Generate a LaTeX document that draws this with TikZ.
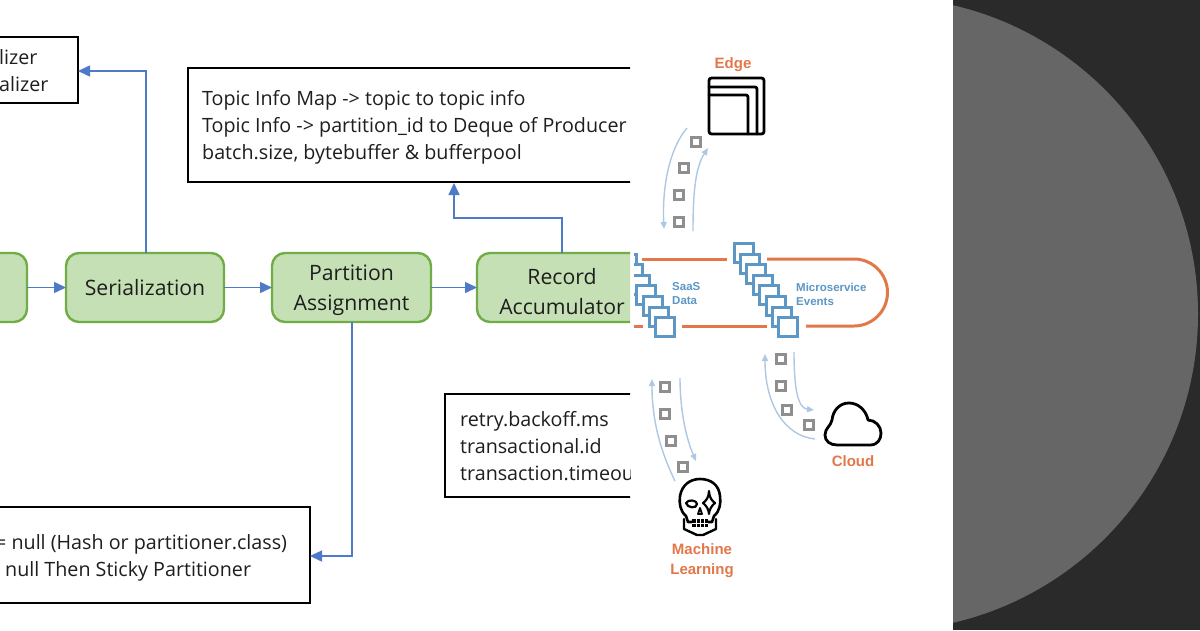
\documentclass[tikz,border=0pt]{standalone}
\usepackage{fontspec}
\setmainfont{Open Sans}
\newfontfamily\labfont{Liberation Sans}
\usetikzlibrary{arrows.meta}
\definecolor{darkbg}{HTML}{2A2A2A}
\definecolor{disc}{HTML}{666666}
\definecolor{gfill}{HTML}{C5E0B4}
\definecolor{gline}{HTML}{70AD47}
\definecolor{arrowblue}{HTML}{4F7AC8}
\definecolor{orangeC}{HTML}{E2784A}
\definecolor{blueC}{HTML}{5C97C6}
\definecolor{paleC}{HTML}{AFC8E2}
\definecolor{grayC}{HTML}{8E8E8E}
\definecolor{inkC}{HTML}{1E1E1E}
\tikzset{
  gbox/.style={draw=gline,fill=gfill,line width=2.4pt,rounded corners=13pt,align=center,text=inkC,font=\fontsize{21.2}{30}\selectfont,inner sep=0pt,outer sep=0pt},
  kbox/.style={draw=black,fill=white,line width=2.8pt,inner sep=0pt,outer sep=0pt},
  btext/.style={anchor=west,align=left,text=inkC,font=\fontsize{19.7}{27}\selectfont,inner sep=0pt},
  flow/.style={draw=arrowblue,line width=1.5pt,-{Triangle[length=12pt,width=11pt]}},
  pipe/.style={draw=orangeC,line width=3pt},
  qsq/.style={draw=blueC,line width=3pt,fill=white,minimum size=19pt,inner sep=0pt,outer sep=0pt},
  gsq/.style={draw=grayC,line width=2.6pt,fill=white,minimum size=9.5pt,inner sep=0pt,outer sep=0pt},
  pale/.style={draw=paleC,line width=1.4pt,-{Triangle[length=7pt,width=6pt]}},
  olabel/.style={text=orangeC,font=\labfont\bfseries\fontsize{15}{20}\selectfont,align=center,inner sep=0pt},
  blabel/.style={text=blueC,font=\labfont\bfseries\fontsize{11.5}{14}\selectfont,align=left,anchor=west,inner sep=0pt},
  icon/.style={draw=black,line width=2.8pt,line join=round,line cap=round}
}
\begin{document}
\begin{tikzpicture}[x=1pt,y=-1pt]
\useasboundingbox (0,0) rectangle (1200,630);
\fill[white] (0,0) rectangle (953,630);
\fill[darkbg] (953,0) rectangle (1200,630);
\begin{scope}
  \clip (953,0) rectangle (1200,630);
  \fill[disc] (881,314) circle (317pt);
\end{scope}
% left diagram, cut off at both sides
\begin{scope}
  \clip (0,0) rectangle (630,630);
  \node[gbox,minimum width=100pt,minimum height=69pt] (prev) at (-23,287.5) {};
  \node[gbox,minimum width=158pt,minimum height=69pt] (ser) at (145,287.5) {Serialization};
  \node[gbox,minimum width=159pt,minimum height=69pt] (part) at (351.5,287.5) {\rule{0pt}{22pt}Partition\\Assignment};
  \node[gbox,minimum width=170pt,minimum height=69pt] (rec) at (562,287.5) {\rule{0pt}{25pt}Record\\Accumulator};
  \node[kbox,minimum width=178pt,minimum height=66pt] (keyb) at (-11,70) {};
  \node[kbox,minimum width=470pt,minimum height=114pt] (topic) at (423,125) {};
  \node[kbox,minimum width=220pt,minimum height=103pt] (retry) at (555,445.5) {};
  \node[kbox,minimum width=370pt,minimum height=96pt] (nullb) at (125,555) {};
  \node[btext] (keyt) at (-1,71) {lizer\\alizer};
  \node[btext] (topict) at (202,127) {Topic Info Map -> topic to topic info\\Topic Info -> partition\_id to Deque of Producer\\batch.size, bytebuffer \& bufferpool};
  \node[btext] (retryt) at (460,446) {retry.backoff.ms\\transactional.id\\transaction.timeout};
  \node[btext] (nullt) at (-5,558) {= null (Hash or partitioner.class)\\\hspace*{10pt}null Then Sticky Partitioner};
  \draw[flow] (prev.east) -- (ser.west);
  \draw[flow] (ser.north -| 146,0) -- (146,71) -- (keyb.east |- 0,71);
  \draw[flow] (ser.east) -- (part.west);
  \draw[flow] (part.east) -- (rec.west);
  \draw[flow] (rec.north) -- ++(0,-35) -| (454,183);
  \draw[flow] (part.south -| 352,0) -- (352,556) -- (nullb.east |- 0,556);
\end{scope}
% right diagram: pipeline
\draw[pipe] (642,259) -- (727,259);
\draw[pipe] (767,259) -- (854,259) arc[start angle=-90,end angle=90,radius=33.5pt,x radius=33.5pt,y radius=-33.5pt] -- (806,326);
\draw[pipe] (767,326) -- (682,326);
\draw[pipe] (634,326) -- (643,326);
\begin{scope}
  \clip (634,230) rectangle (900,345);
  \foreach \i in {0,...,7}{
    \node[qsq] (sa\i) at ({620.5+6.4*\i},{253+10.6*\i}) {};
  }
\end{scope}
\foreach \i in {0,...,7}{
  \node[qsq] (mi\i) at ({743.5+6.4*\i},{253+10.6*\i}) {};
}
\node[blabel] (saas) at (672,294) {SaaS\\Data};
\node[blabel] (micro) at (796,294) {Microservice\\Events};
% data streams
\foreach \n/\p in {e1/{696,142},e2/{684,168},e3/{679,195},e4/{679,222},
                   m1/{665,387},m2/{665,414},m3/{671,441},m4/{683,467},
                   c1/{781,359},c2/{781,386},c3/{787,410},c4/{809,425}}{
  \node[gsq] (\n) at (\p) {};
}
\coordinate (ea) at (687,128); \coordinate (eb) at (664,229);
\coordinate (ec) at (693,231); \coordinate (ed) at (708,148);
\coordinate (ma) at (675,481); \coordinate (mb) at (652,379);
\coordinate (mc) at (680,378); \coordinate (md) at (696,461);
\coordinate (ca) at (815,439); \coordinate (cb) at (765,354);
\coordinate (cc) at (794,352); \coordinate (cd) at (814,410);
\draw[pale] (ea) .. controls (670,148) and (662,185) .. (eb);
\draw[pale] (ec) .. controls (693,195) and (695,168) .. (ed);
\draw[pale] (ma) .. controls (660,450) and (652,420) .. (mb);
\draw[pale] (mc) .. controls (680,410) and (686,438) .. (md);
\draw[pale] (ca) .. controls (785,436) and (765,405) .. (cb);
\draw[pale] (cc) .. controls (794,385) and (797,408) .. (cd);
% edge icon
\node[inner sep=0pt,outer sep=0pt,minimum width=55pt,minimum height=56pt,draw=black,line width=2.8pt,rounded corners=2.5pt] (edgei) at (736.5,106) {};
\draw[icon] (709,87) -- (755,87) to[out=0,in=90] (757,89) -- (757,134);
\draw[icon] (709,95) -- (746,95) to[out=0,in=90] (748,97) -- (748,134);
\node[olabel] (edgel) at (733,65) {Edge};
% cloud
\draw[icon,fill=white] (837,445) -- (870,445)
  .. controls (878,445) and (881,439) .. (881,433)
  .. controls (881,426) and (875,420) .. (868,420)
  .. controls (866,410) and (858,403) .. (849,403)
  .. controls (840,403) and (833,410) .. (832,420)
  .. controls (831,426) and (825,428) .. (825,435)
  .. controls (825,441) and (830,445) .. (837,445) -- cycle;
\node[olabel] (cloudl) at (853,461) {Cloud};
% skull
\draw[icon,line width=2.6pt] (686,516)
  .. controls (680,511) and (679,503) .. (680,496)
  .. controls (682,485) and (690,479) .. (700,479)
  .. controls (711,479) and (719,485) .. (720,496)
  .. controls (721,503) and (720,511) .. (714,516)
  -- (712,522) -- (688,522) -- cycle;
\draw[icon,line width=2.2pt] (686,503) .. controls (688,499) and (697,500) .. (697,504)
  .. controls (697,509) and (687,508) .. (686,503) -- cycle;
\draw[icon,line width=2.2pt] (709,491) .. controls (709,497) and (712,501) .. (715,503)
  .. controls (712,505) and (709,510) .. (709,514)
  .. controls (709,510) and (706,505) .. (703,503)
  .. controls (706,501) and (709,497) .. (709,491) -- cycle;
\draw[icon,line width=1.8pt] (700,508) -- (698,514) -- (702,514) -- cycle;
\draw[icon,line width=2.4pt] (684,519) -- (684,529) -- (697,535) -- (703,535) -- (716,529) -- (716,519);
\fill[black] (692,519) rectangle (708,527);
\foreach \tx in {696,700,704}{\draw[white,line width=.6pt] (\tx,519) -- (\tx,527);}
\draw[white,line width=.6pt] (692,523) -- (708,523);
\node[olabel] (mll) at (702,561) {Machine\\Learning};
\end{tikzpicture}
\end{document}
